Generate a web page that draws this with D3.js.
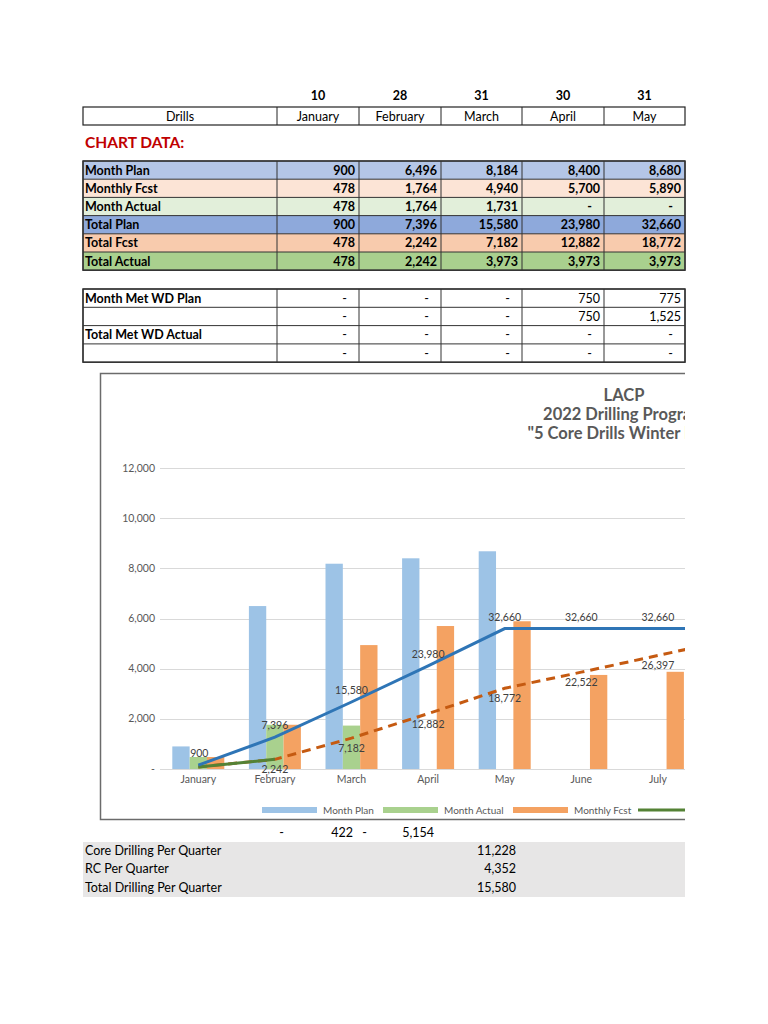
<!DOCTYPE html>
<html>
<head>
<meta charset="utf-8">
<script src="https://cdn.jsdelivr.net/npm/d3@7"></script>
<style>
  body { margin: 0; background: #fff; }
  text { font-family: Lato, "Noto Sans", sans-serif; }
</style>
</head>
<body>
<svg id="page" width="768" height="1024"></svg>
<script>
// ---- table data ----
const daysInMonth = [10, 28, 31, 30, 31];
const tableMonths = ["January", "February", "March", "April", "May"];

const chartRowLabels = ["Month Plan", "Monthly Fcst", "Month Actual", "Total Plan", "Total Fcst", "Total Actual"];
const monthPlan   = [900, 6496, 8184, 8400, 8680];
const monthlyFcst = [478, 1764, 4940, 5700, 5890];
const monthActual = [478, 1764, 1731, 0, 0];
const totalPlan   = [900, 7396, 15580, 23980, 32660];
const totalFcst   = [478, 2242, 7182, 12882, 18772];
const totalActual = [478, 2242, 3973, 3973, 3973];

const metRowLabels = ["Month Met WD Plan", "", "Total Met WD Actual", ""];
const metWdPlan      = [0, 0, 0, 750, 775];
const metWdPlanCum   = [0, 0, 0, 750, 1525];
const metWdActual    = [0, 0, 0, 0, 0];
const metWdActualCum = [0, 0, 0, 0, 0];

// ---- chart data ----
const chartMonths = ["January", "February", "March", "April", "May", "June", "July", "August"];
const barPlan   = [900, 6496, 8184, 8400, 8680, 0, 0];
const barActual = [478, 1764, 1731, 0, 0, 0, 0];
const barFcst   = [478, 1764, 4940, 5700, 5890, 3750, 3875];
const linePlan   = [900, 7396, 15580, 23980, 32660, 32660, 32660, 32660];
const lineFcst   = [478, 2242, 7182, 12882, 18772, 22522, 26397, 30270];
const lineActual = [478, 2242];
const primaryTicks = [0, 2000, 4000, 6000, 8000, 10000, 12000];
const titleLines = ["LACP", "2022 Drilling Program", "\"5 Core Drills Winter Fcst\""];
const legendItems = ["Month Plan", "Month Actual", "Monthly Fcst", "Total Actual"];

// ---- under the chart ----
const strayValues = [0, 422, 0, 5154];
const quarterLabels = ["Core Drilling Per Quarter", "RC Per Quarter", "Total Drilling Per Quarter"];
const quarterValues = [11228, 4352, 15580];

// colours
const rowFills = ["#b4c6e7", "#fce4d6", "#e2efda", "#8ea9db", "#f8cbad", "#a9d08e"];
const cPlan = "#9dc3e6", cActual = "#a9d18e", cFcst = "#f4a262";
const cPlanLine = "#2e75b6", cFcstLine = "#c55a11", cActualLine = "#548235";

const fmt = d3.format(",");
const acct = v => v === 0 ? "-" : fmt(v);

const svg = d3.select("#page");
svg.append("rect").attr("width", 768).attr("height", 1024).attr("fill", "#fff");

const colEdges = [83, 277, 359, 441, 522, 604, 685];

// generic table drawer
function drawTable(y0, rowH, labels, rows, fills, borderCol) {
    const g = svg.append("g");
    labels.forEach((lab, r) => {
        const y = y0 + r * rowH;
        g.append("rect")
            .attr("x", colEdges[0]).attr("y", y)
            .attr("width", colEdges[6] - colEdges[0]).attr("height", rowH)
            .attr("fill", fills ? fills[r] : "#fff");
        g.append("text")
            .attr("x", colEdges[0] + 2).attr("y", y + rowH / 2 + 4.5)
            .attr("font-size", 12.5).attr("font-weight", "bold")
            .text(lab);
        rows[r].forEach((v, c) => {
            g.append("text")
                .attr("x", colEdges[c + 2] - (v === 0 ? 12 : 4))
                .attr("y", y + rowH / 2 + 4.5)
                .attr("text-anchor", "end")
                .attr("font-size", 12.5)
                .attr("font-weight", fills ? "bold" : "normal")
                .text(acct(v));
        });
    });
    // grid lines
    d3.range(labels.length + 1).forEach(r => {
        g.append("line")
            .attr("x1", colEdges[0]).attr("x2", colEdges[6])
            .attr("y1", y0 + r * rowH).attr("y2", y0 + r * rowH)
            .attr("stroke", borderCol).attr("stroke-width", 1);
    });
    colEdges.forEach(x => {
        g.append("line")
            .attr("x1", x).attr("x2", x)
            .attr("y1", y0).attr("y2", y0 + labels.length * rowH)
            .attr("stroke", borderCol).attr("stroke-width", 1);
    });
    g.append("rect")
        .attr("x", colEdges[0]).attr("y", y0)
        .attr("width", colEdges[6] - colEdges[0]).attr("height", labels.length * rowH)
        .attr("fill", "none").attr("stroke", borderCol).attr("stroke-width", 1.5);
}

// header: days + month names
daysInMonth.forEach((d, i) => {
    svg.append("text")
        .attr("x", (colEdges[i + 1] + colEdges[i + 2]) / 2).attr("y", 100)
        .attr("text-anchor", "middle").attr("font-size", 12.5).attr("font-weight", "bold")
        .text(d);
});
svg.append("rect").attr("x", colEdges[0]).attr("y", 107)
    .attr("width", colEdges[6] - colEdges[0]).attr("height", 18)
    .attr("fill", "none").attr("stroke", "#222").attr("stroke-width", 1.2);
colEdges.slice(1, 6).forEach(x => {
    svg.append("line").attr("x1", x).attr("x2", x).attr("y1", 107).attr("y2", 125)
        .attr("stroke", "#222");
});
["Drills"].concat(tableMonths).forEach((m, i) => {
    svg.append("text")
        .attr("x", (colEdges[i] + colEdges[i + 1]) / 2).attr("y", 120.5)
        .attr("text-anchor", "middle").attr("font-size", 12.5)
        .text(m);
});

svg.append("text").attr("x", 85).attr("y", 148)
    .attr("font-size", 15.5).attr("font-weight", "bold").attr("fill", "#c00000")
    .text("CHART DATA:");

drawTable(161, 18.2, chartRowLabels,
    [monthPlan, monthlyFcst, monthActual, totalPlan, totalFcst, totalActual],
    rowFills, "#333");

drawTable(289, 18.3, metRowLabels,
    [metWdPlan, metWdPlanCum, metWdActual, metWdActualCum],
    null, "#333");

// ---- chart ----
svg.append("clipPath").attr("id", "chartClip")
    .append("rect").attr("x", 100).attr("y", 373).attr("width", 585).attr("height", 447);

const chart = svg.append("g").attr("clip-path", "url(#chartClip)");
chart.append("rect").attr("x", 100).attr("y", 373).attr("width", 585).attr("height", 447)
    .attr("fill", "#fff");

const x = d3.scaleBand().domain(chartMonths).range([160, 160 + 76.6 * chartMonths.length]);
const y = d3.scaleLinear().domain([0, 12000]).range([769, 468]);
const y2 = d3.scaleLinear().domain([0, 70000]).range([769, 468]);
const cx = m => x(m) + x.bandwidth() / 2;
const x1 = d3.scaleBand().domain(["plan", "actual", "fcst"])
    .range([x.bandwidth() / 2 - 26, x.bandwidth() / 2 + 26]);

// gridlines + y labels
chart.selectAll(".grid").data(primaryTicks).enter().append("line")
    .attr("x1", 160).attr("x2", 1100)
    .attr("y1", d => Math.round(y(d)) + 0.5).attr("y2", d => Math.round(y(d)) + 0.5)
    .attr("stroke", "#d9d9d9").attr("stroke-width", 1);
chart.selectAll(".ylab").data(primaryTicks).enter().append("text")
    .attr("x", 155).attr("y", d => y(d) + 3.5)
    .attr("text-anchor", "end").attr("font-size", 10.5).attr("fill", "#595959")
    .text(d => d === 0 ? "-" : fmt(d));

// bars
const barSeries = [["plan", barPlan, cPlan], ["actual", barActual, cActual], ["fcst", barFcst, cFcst]];
barSeries.forEach(([key, vals, col]) => {
    chart.selectAll(".bar-" + key).data(vals).enter().append("rect")
        .attr("x", (d, i) => x(chartMonths[i]) + x1(key))
        .attr("width", x1.bandwidth())
        .attr("y", d => y(d))
        .attr("height", d => y(0) - y(d))
        .attr("fill", col);
});

// x labels
chart.selectAll(".xlab").data(chartMonths).enter().append("text")
    .attr("x", d => cx(d)).attr("y", 782.5)
    .attr("text-anchor", "middle").attr("font-size", 10.5).attr("fill", "#595959")
    .text(d => d);

// lines on secondary axis
const line = d3.line().x((d, i) => cx(chartMonths[i])).y(d => y2(d));
chart.append("path").datum(lineFcst).attr("d", line)
    .attr("fill", "none").attr("stroke", cFcstLine).attr("stroke-width", 3)
    .attr("stroke-dasharray", "9,6");
chart.append("path").datum(lineActual).attr("d", line)
    .attr("fill", "none").attr("stroke", cActualLine).attr("stroke-width", 3);
chart.append("path").datum(linePlan).attr("d", line)
    .attr("fill", "none").attr("stroke", cPlanLine).attr("stroke-width", 3);

// data labels
chart.selectAll(".planlab").data(linePlan).enter().append("text")
    .attr("x", (d, i) => cx(chartMonths[i]) + (i === 0 ? 1 : 0))
    .attr("y", d => y2(d) - 8)
    .attr("text-anchor", "middle").attr("font-size", 10.5).attr("fill", "#404040")
    .text(d => fmt(d));
chart.selectAll(".fcstlab").data(lineFcst.slice(1)).enter().append("text")
    .attr("x", (d, i) => cx(chartMonths[i + 1]))
    .attr("y", d => y2(d) + 14)
    .attr("text-anchor", "middle").attr("font-size", 10.5).attr("fill", "#404040")
    .text(d => fmt(d));

// title
titleLines.forEach((t, i) => {
    chart.append("text")
        .attr("x", 624).attr("y", 401 + i * 19)
        .attr("text-anchor", "middle").attr("font-size", 16.5).attr("font-weight", "bold")
        .attr("fill", "#595959")
        .text(t);
});

// legend
const legendX = [262, 383, 513, 638];
legendItems.forEach((lab, i) => {
    const lx = legendX[i];
    if (i < 3) {
        chart.append("rect").attr("x", lx).attr("y", 807).attr("width", 55).attr("height", 6)
            .attr("fill", [cPlan, cActual, cFcst][i]);
    } else {
        chart.append("line").attr("x1", lx).attr("x2", lx + 55).attr("y1", 810).attr("y2", 810)
            .attr("stroke", cActualLine).attr("stroke-width", 3);
    }
    chart.append("text").attr("x", lx + 61).attr("y", 813.5)
        .attr("font-size", 10).attr("fill", "#595959").text(lab);
});

// chart frame
svg.append("path")
    .attr("d", "M685,373.5 H100.5 V819.5 H685")
    .attr("fill", "none").attr("stroke", "#6b6b6b").attr("stroke-width", 1.5);

// ---- under the chart ----
const strayRight = [284, 353, 367, 434];
strayValues.forEach((v, i) => {
    svg.append("text").attr("x", strayRight[i]).attr("y", 837)
        .attr("text-anchor", "end").attr("font-size", 12.5)
        .text(acct(v));
});

svg.append("rect").attr("x", 83).attr("y", 842).attr("width", 602).attr("height", 55)
    .attr("fill", "#e7e6e6");
quarterLabels.forEach((lab, i) => {
    const yy = 854.5 + i * 18.7;
    svg.append("text").attr("x", 85).attr("y", yy).attr("font-size", 12.5).text(lab);
    svg.append("text").attr("x", 516).attr("y", yy).attr("text-anchor", "end")
        .attr("font-size", 12.5).text(fmt(quarterValues[i]));
});
</script>
</body>
</html>
